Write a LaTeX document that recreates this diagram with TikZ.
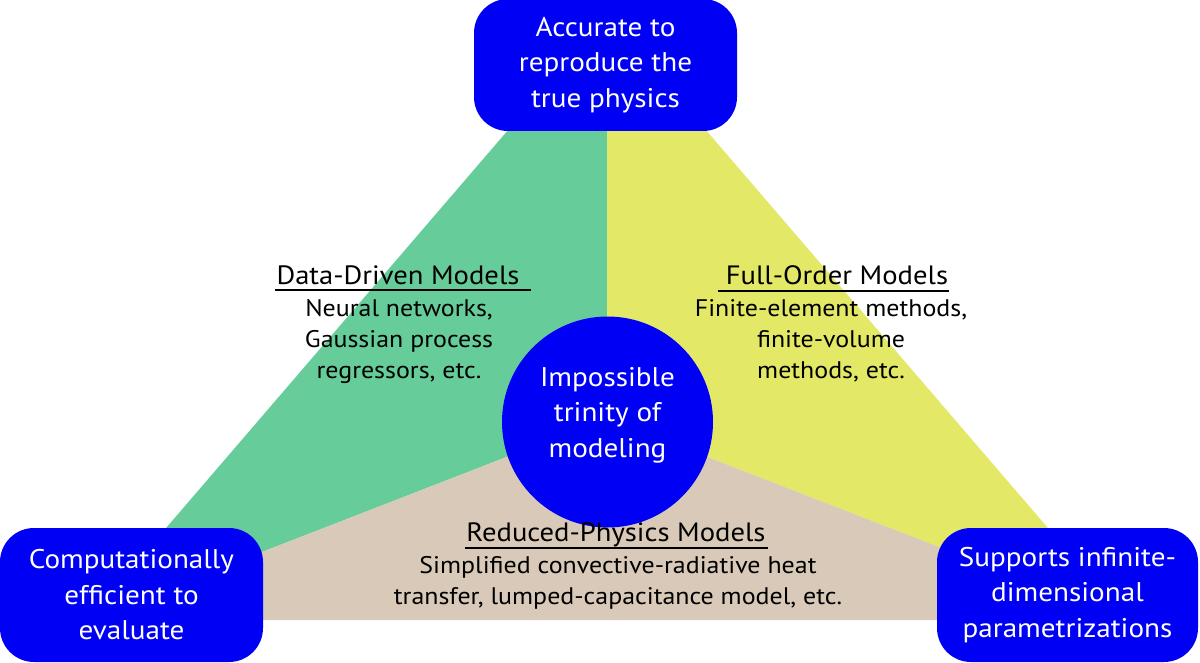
\documentclass[tikz,border=0pt]{standalone}
\usepackage{fontspec}
\setmainfont{PT Sans}[FakeStretch=1.08]
\definecolor{tblue}{RGB}{0,0,245}
\definecolor{tgreen}{RGB}{102,204,153}
\definecolor{tyellow}{RGB}{227,232,103}
\definecolor{ttan}{RGB}{216,201,184}
\begin{document}
\begin{tikzpicture}[x=1pt,y=-1pt,
  goal/.style={fill=tblue, rounded corners=34pt, text=white, align=center, inner sep=0pt,
    font=\fontsize{27}{35.5}\selectfont},
  trinity/.style={circle, fill=tblue, inner sep=0pt, minimum size=211pt},
  trintext/.style={text=white, align=center, inner sep=0pt, font=\fontsize{27}{35.5}\selectfont},
  modeltitle/.style={inner sep=0pt, anchor=base, font=\fontsize{26.5}{31}\selectfont},
  modelbody/.style={inner sep=0pt, align=center, font=\fontsize{24}{31}\selectfont},
  uline/.style={line width=1.4pt, black}]
\useasboundingbox (0,0) rectangle (1200,663);
\fill[white] (0,0) rectangle (1200,663);
% triangle regions
\coordinate (apex) at (607,15);
\coordinate (bl) at (87,620);
\coordinate (br) at (1127,620);
\coordinate (cen) at (607,418);
\fill[tgreen] (apex) -- (bl) -- (cen) -- cycle;
\fill[tyellow] (apex) -- (cen) -- (br) -- cycle;
\fill[ttan] (bl) -- (br) -- (cen) -- cycle;
% goal boxes
\node[goal, minimum width=263pt, minimum height=132pt] (acc) at (605.5,65) {Accurate to\\reproduce the\\true physics};
\node[goal, minimum width=263pt, minimum height=134pt] (eff) at (131.5,595) {Computationally\\efficient to\\evaluate};
\node[goal, minimum width=261pt, minimum height=134pt] (inf) at (1067.5,595) {Supports infinite-\\dimensional\\parametrizations};
% centre
\node[trinity] (trin) at (607.5,422) {};
\node[trintext] (trinlbl) at ([yshift=7pt]trin.center) {Impossible\\trinity of\\modeling};
% model families
\node[modeltitle] (ddt) at (398,285) {Data-Driven Models};
\node[modelbody] (ddb) at (399,341.5) {Neural networks,\\Gaussian process\\regressors, etc.};
\draw[uline] ([xshift=-1pt,yshift=-5pt]ddt.base west) -- ([xshift=11pt,yshift=-5pt]ddt.base east);
\node[modeltitle] (fot) at (837,285) {Full-Order Models};
\node[modelbody] (fob) at (831,341) {Finite-element methods,\\finite-volume\\methods, etc.};
\draw[uline] ([xshift=-8pt,yshift=-6pt]fot.base west) -- ([xshift=1pt,yshift=-6pt]fot.base east);
\node[modeltitle] (rpt) at (616,541) {Reduced-Physics Models};
\node[modelbody] (rpb) at (618,583) {Simplified convective-radiative heat\\transfer, lumped-capacitance model, etc.};
\draw[uline] ([xshift=-1pt,yshift=-7pt]rpt.base west) -- ([xshift=2pt,yshift=-7pt]rpt.base east);
\end{tikzpicture}
\end{document}
